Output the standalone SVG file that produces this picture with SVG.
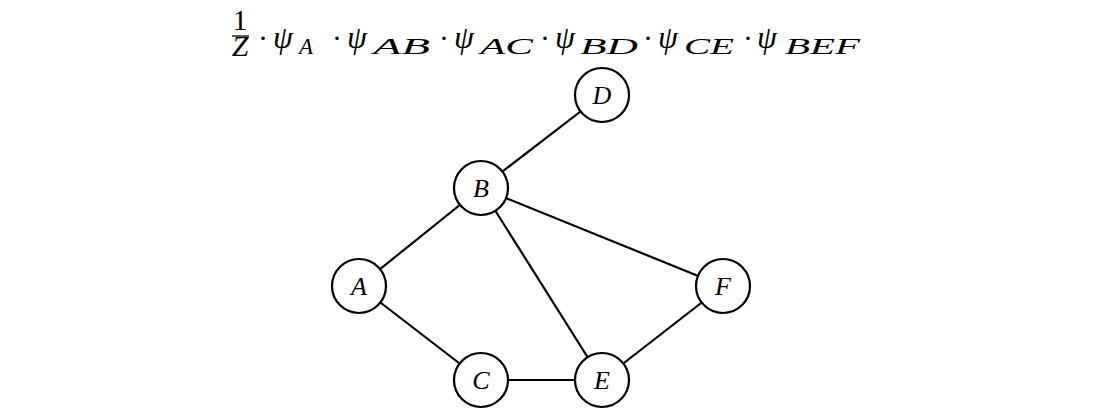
<svg xmlns="http://www.w3.org/2000/svg" width="1104" height="417" viewBox="0 0 1104 417">
<style>
.n{fill:#fff;stroke:#000;stroke-width:2.2}
.l{font-family:"Liberation Serif",serif;font-style:italic;font-size:26px;text-anchor:middle}
.e{stroke:#000;stroke-width:2.2}
.f{font-family:"Liberation Serif",serif;font-size:30px}
.p{font-family:"Liberation Serif",serif;font-size:32px;font-style:italic}
.s{font-family:"Liberation Serif",serif;font-size:23px;font-style:italic}
</style>
<rect width="1104" height="417" fill="#fff"/>
<g id="formula">
<text class="f" x="240" y="30" font-size="18" text-anchor="middle">1</text>
<line x1="232" y1="36" x2="249" y2="36" stroke="#000" stroke-width="1.3"/>
<text class="f" x="240" y="56" font-size="18" font-style="italic" text-anchor="middle">Z</text>
<text class="f" x="258" y="48">·</text>
<text class="p" x="273" y="48">ψ</text><text class="s" x="299" y="54">A</text>
<text class="f" x="332" y="48">·</text>
<text class="p" x="347" y="48">ψ</text><text class="s" x="373" y="54" textLength="57" lengthAdjust="spacingAndGlyphs">AB</text>
<text class="f" x="439" y="48">·</text>
<text class="p" x="454" y="48">ψ</text><text class="s" x="480" y="54" textLength="53" lengthAdjust="spacingAndGlyphs">AC</text>
<text class="f" x="540" y="48">·</text>
<text class="p" x="555" y="48">ψ</text><text class="s" x="580" y="54" textLength="58" lengthAdjust="spacingAndGlyphs">BD</text>
<text class="f" x="643" y="48">·</text>
<text class="p" x="658" y="48">ψ</text><text class="s" x="684" y="54" textLength="50" lengthAdjust="spacingAndGlyphs">CE</text>
<text class="f" x="743" y="48">·</text>
<text class="p" x="757" y="48">ψ</text><text class="s" x="785" y="54" textLength="75" lengthAdjust="spacingAndGlyphs">BEF</text>
</g>
<g id="edges">
<line class="e" x1="602" y1="95" x2="481" y2="188"/>
<line class="e" x1="481" y1="188" x2="359" y2="286"/>
<line class="e" x1="481" y1="188" x2="723" y2="286"/>
<line class="e" x1="481" y1="188" x2="602" y2="380"/>
<line class="e" x1="359" y1="286" x2="481" y2="380"/>
<line class="e" x1="481" y1="380" x2="602" y2="380"/>
<line class="e" x1="723" y1="286" x2="602" y2="380"/>
</g>
<g id="D"><circle class="n" cx="602" cy="95" r="27"/><text class="l" x="602" y="104">D</text></g>
<g id="B"><circle class="n" cx="481" cy="188" r="27"/><text class="l" x="481" y="197">B</text></g>
<g id="A"><circle class="n" cx="359" cy="286" r="27"/><text class="l" x="359" y="295">A</text></g>
<g id="F"><circle class="n" cx="723" cy="286" r="27"/><text class="l" x="723" y="295">F</text></g>
<g id="C"><circle class="n" cx="481" cy="380" r="27"/><text class="l" x="481" y="389">C</text></g>
<g id="E"><circle class="n" cx="602" cy="380" r="27"/><text class="l" x="602" y="389">E</text></g>
</svg>
